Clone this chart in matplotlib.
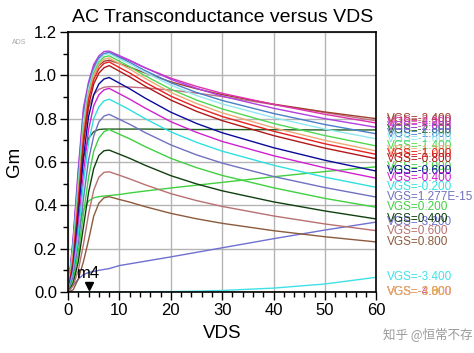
import matplotlib
matplotlib.use("Agg")
import matplotlib.pyplot as plt
from matplotlib.ticker import MultipleLocator
from matplotlib import transforms

plt.rcParams['font.family'] = ['Liberation Sans', 'DejaVu Sans']

# === Data ===
vds = [0, 1, 2, 3, 4, 5, 6, 7, 8, 10, 12, 15, 20, 25, 30, 40, 50, 60]

gm_n4p0 = [0] * 18
gm_n3p8 = [0] * 18
gm_n3p6 = [0] * 18
gm_n3p4 = [0, 0, 0, 0, 0, 0, 0, 0, 0, 0, 0, 0.001, 0.002, 0.004, 0.007, 0.018, 0.037, 0.068]
gm_n3p2 = [0, 0.03, 0.06, 0.08, 0.09, 0.095, 0.10, 0.104, 0.108, 0.122, 0.13, 0.142, 0.162, 0.183, 0.204, 0.246, 0.286, 0.323]
gm_n3p0 = [0, 0.12, 0.28, 0.38, 0.42, 0.435, 0.44, 0.443, 0.445, 0.45, 0.457, 0.466, 0.48, 0.493, 0.506, 0.532, 0.556, 0.578]
gm_n2p8 = [0, 0.18, 0.42, 0.62, 0.71, 0.74, 0.75, 0.752, 0.752, 0.752, 0.752, 0.752, 0.751, 0.75, 0.75, 0.749, 0.748, 0.748]
gm_n2p6 = [0, 0.2, 0.48, 0.72, 0.85, 0.91, 0.935, 0.945, 0.948, 0.948, 0.946, 0.942, 0.932, 0.918, 0.902, 0.865, 0.828, 0.79]
gm_n2p4 = [0, 0.22, 0.52, 0.80, 0.93, 1.00, 1.045, 1.065, 1.07, 1.054, 1.038, 1.011, 0.970, 0.938, 0.911, 0.867, 0.831, 0.80]
gm_n2p2 = [0, 0.24, 0.55, 0.83, 0.96, 1.04, 1.08, 1.10, 1.105, 1.086, 1.067, 1.035, 0.987, 0.949, 0.917, 0.866, 0.82, 0.78]
gm_n2p0 = [0, 0.25, 0.57, 0.85, 0.97, 1.05, 1.09, 1.11, 1.112, 1.091, 1.070, 1.035, 0.982, 0.940, 0.904, 0.848, 0.800, 0.76]
gm_n1p8 = [0, 0.23, 0.53, 0.81, 0.95, 1.03, 1.08, 1.10, 1.105, 1.082, 1.060, 1.022, 0.966, 0.921, 0.884, 0.824, 0.773, 0.73]
gm_n1p6 = [0, 0.21, 0.50, 0.79, 0.94, 1.02, 1.07, 1.095, 1.10, 1.076, 1.053, 1.014, 0.955, 0.907, 0.868, 0.805, 0.752, 0.707]
gm_n1p4 = [0, 0.19, 0.47, 0.76, 0.92, 1.01, 1.06, 1.085, 1.09, 1.065, 1.040, 0.998, 0.936, 0.886, 0.845, 0.778, 0.722, 0.674]
gm_n1p2 = [0, 0.17, 0.45, 0.74, 0.91, 1.00, 1.05, 1.075, 1.08, 1.054, 1.029, 0.986, 0.921, 0.870, 0.827, 0.758, 0.700, 0.651]
gm_n1p0 = [0, 0.15, 0.42, 0.71, 0.89, 0.98, 1.03, 1.055, 1.062, 1.036, 1.011, 0.968, 0.904, 0.853, 0.810, 0.742, 0.684, 0.635]
gm_n0p8 = [0, 0.13, 0.39, 0.68, 0.86, 0.96, 1.01, 1.035, 1.045, 1.019, 0.993, 0.950, 0.886, 0.834, 0.791, 0.722, 0.664, 0.615]
gm_n0p6 = [0, 0.11, 0.35, 0.62, 0.81, 0.91, 0.96, 0.983, 0.99, 0.964, 0.938, 0.895, 0.830, 0.778, 0.735, 0.666, 0.608, 0.558]
gm_n0p4 = [0, 0.10, 0.31, 0.55, 0.75, 0.86, 0.91, 0.933, 0.94, 0.915, 0.890, 0.849, 0.786, 0.737, 0.695, 0.629, 0.573, 0.525]
gm_n0p2 = [0, 0.09, 0.27, 0.50, 0.69, 0.80, 0.855, 0.882, 0.89, 0.866, 0.841, 0.800, 0.739, 0.691, 0.650, 0.585, 0.530, 0.483]
gm_zero = [0, 0.07, 0.22, 0.43, 0.61, 0.72, 0.785, 0.812, 0.82, 0.797, 0.774, 0.736, 0.679, 0.633, 0.595, 0.533, 0.482, 0.438]
gm_p0p2 = [0, 0.05, 0.18, 0.36, 0.53, 0.65, 0.71, 0.74, 0.75, 0.728, 0.707, 0.671, 0.617, 0.574, 0.538, 0.481, 0.432, 0.391]
gm_p0p4 = [0, 0.04, 0.14, 0.30, 0.46, 0.57, 0.63, 0.652, 0.655, 0.636, 0.617, 0.585, 0.537, 0.499, 0.467, 0.416, 0.374, 0.337]
gm_p0p6 = [0, 0.03, 0.10, 0.22, 0.36, 0.47, 0.53, 0.552, 0.555, 0.539, 0.522, 0.495, 0.454, 0.422, 0.395, 0.351, 0.314, 0.283]
gm_p0p8 = [0, 0.01, 0.06, 0.14, 0.24, 0.35, 0.41, 0.435, 0.44, 0.427, 0.415, 0.394, 0.363, 0.338, 0.317, 0.283, 0.255, 0.231]

vgs_labels = ["VGS=-4.000", "VGS=-3.800", "VGS=-3.600", "VGS=-3.400", "VGS=-3.200",
              "VGS=-3.000", "VGS=-2.800", "VGS=-2.600", "VGS=-2.400", "VGS=-2.200",
              "VGS=-2.000", "VGS=-1.800", "VGS=-1.600", "VGS=-1.400", "VGS=-1.200",
              "VGS=-1.000", "VGS=-0.800", "VGS=-0.600", "VGS=-0.400", "VGS=-0.200",
              "VGS=1.277E-15", "VGS=0.200", "VGS=0.400", "VGS=0.600", "VGS=0.800"]

trace_colors = ["#E040C0", "#D8C020", "#E8A878", "#40E0E8", "#7070D0",
                "#40D040", "#206020", "#C07080", "#A04030", "#E030B0",
                "#B040E0", "#4A80C8", "#90E8F0", "#50D850", "#F0A878",
                "#E82020", "#B01818", "#0A0A9A", "#D020D0", "#30E0E0",
                "#7070C0", "#40D040", "#104010", "#B87070", "#8C5A3C"]

curves = [gm_n4p0, gm_n3p8, gm_n3p6, gm_n3p4, gm_n3p2, gm_n3p0, gm_n2p8, gm_n2p6,
          gm_n2p4, gm_n2p2, gm_n2p0, gm_n1p8, gm_n1p6, gm_n1p4, gm_n1p2, gm_n1p0,
          gm_n0p8, gm_n0p6, gm_n0p4, gm_n0p2, gm_zero, gm_p0p2, gm_p0p4, gm_p0p6, gm_p0p8]

marker_x = 4.0
marker_y = 0.0

# === Figure ===
fig = plt.figure(figsize=(4.74, 3.53), dpi=100)
ax = fig.add_axes([0.1435, 0.1728, 0.6505, 0.7365])

for y, c in zip(curves, trace_colors):
    ax.plot(vds, y, color=c, lw=1.0, solid_joinstyle='round')

# labels at the end of each trace
lbl_tr = transforms.blended_transform_factory(ax.transAxes, ax.transData)
for y, c, lab in zip(curves, trace_colors, vgs_labels):
    ax.text(1.033, y[-1], lab, transform=lbl_tr, color=c, fontsize=8.5,
            va='center', ha='left', clip_on=False)

# marker m4
tri_tr = transforms.offset_copy(ax.transData, fig=fig, x=0, y=4, units='points')
ax.plot([marker_x], [marker_y], marker='v', color='black', markersize=6,
        transform=tri_tr, clip_on=False)
ax.text(marker_x - 2.2, marker_y + 0.065, "m4", fontsize=12, color='black')

ax.set_xlim(0, 60)
ax.set_ylim(0, 1.2)
ax.xaxis.set_major_locator(MultipleLocator(10))
ax.xaxis.set_minor_locator(MultipleLocator(2))
ax.yaxis.set_major_locator(MultipleLocator(0.2))
ax.yaxis.set_minor_locator(MultipleLocator(0.1))
ax.yaxis.set_major_formatter(matplotlib.ticker.FormatStrFormatter('%.1f'))
ax.grid(True, which='major', color='#b4b4b4', lw=1.0)
ax.set_axisbelow(True)
ax.tick_params(which='major', direction='out', length=6, width=1, labelsize=12, pad=2)
ax.tick_params(which='minor', direction='out', length=3.5, width=1)
for s in ax.spines.values():
    s.set_color('black')
    s.set_linewidth(1.2)

ax.set_title("AC Transconductance versus VDS", fontsize=14, pad=7)
ax.set_xlabel("VDS", fontsize=13.5, labelpad=5)
ax.set_ylabel("Gm", fontsize=13.5, labelpad=8)

fig.text(12 / 474, 1 - 42 / 353, "ADS", fontsize=5, color='#a8a8a8', va='center')
fig.text(428 / 474, 1 - 334 / 353, "知乎 @恒常不存", fontsize=9, color='#9a9a9a',
         ha='center', va='center', family=['Noto Sans CJK SC', 'DejaVu Sans'])

fig.savefig("out.png", dpi=100)
plt.close(fig)
